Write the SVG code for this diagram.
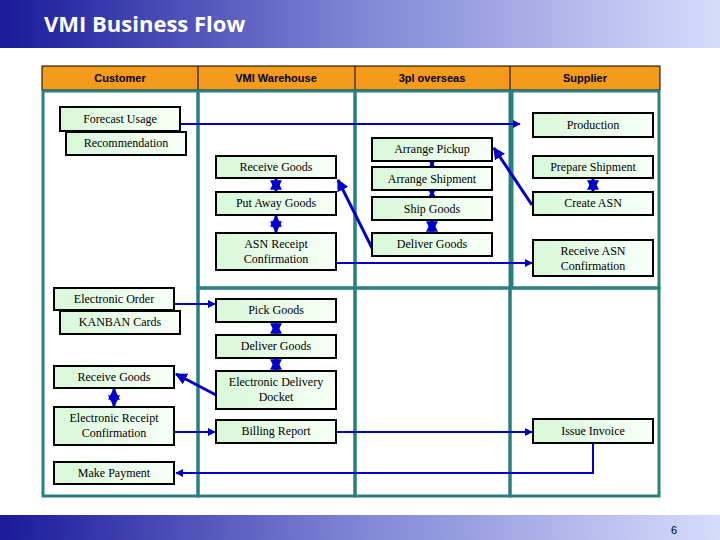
<svg xmlns="http://www.w3.org/2000/svg" width="720" height="540" viewBox="0 0 720 540">
<defs>
<linearGradient id="tb" x1="0" x2="1"><stop offset="0" stop-color="#1a1a9a"/><stop offset="0.5" stop-color="#7f86d6"/><stop offset="1" stop-color="#d6dcfa"/></linearGradient>
<linearGradient id="bx" x1="0" x2="1"><stop offset="0" stop-color="#d8f8d8"/><stop offset="1" stop-color="#f8fff8"/></linearGradient>
<marker id="ah" viewBox="0 0 10 10" refX="9" refY="5" markerWidth="4" markerHeight="4" orient="auto-start-reverse"><path d="M0,0L10,5L0,10z" fill="#0000cc"/></marker>
<style>
.b{fill:url(#bx);stroke:#000;stroke-width:2}
.t{font-family:"Liberation Serif",serif;font-size:12px;text-anchor:middle}
.h{font-family:"Liberation Sans",sans-serif;font-size:11px;font-weight:bold;text-anchor:middle}
.l{fill:none;stroke:#2a7f7f;stroke-width:3}
.a{fill:none;stroke:#0000cc;stroke-width:3;marker-end:url(#ah)}
.d{fill:none;stroke:#0000cc;stroke-width:3;marker-end:url(#ah);marker-start:url(#ah)}
</style>
</defs>
<rect width="720" height="540" fill="#fff"/>
<rect x="0" y="0" width="720" height="48" fill="url(#tb)"/>
<text x="44" y="32" font-family="Open Sans,sans-serif" font-size="22" font-weight="bold" fill="#fff">VMI Business Flow</text>
<rect x="0" y="515" width="720" height="25" fill="url(#tb)"/>
<text x="674" y="534" font-family="Liberation Sans,sans-serif" font-size="11" text-anchor="middle">6</text>
<g id="lanes">
<rect x="42" y="66" width="618" height="24" fill="#f49a1c" stroke="#000"/>
<line x1="198" y1="66" x2="198" y2="90" stroke="#000"/><line x1="355" y1="66" x2="355" y2="90" stroke="#000"/><line x1="510" y1="66" x2="510" y2="90" stroke="#000"/>
<text class="h" x="120" y="82">Customer</text><text class="h" x="276" y="82">VMI Warehouse</text><text class="h" x="432" y="82">3pl  overseas</text><text class="h" x="585" y="82">Supplier</text>
<rect class="l" x="43" y="91" width="155" height="405"/>
<rect class="l" x="198" y="91" width="157" height="197"/>
<rect class="l" x="198" y="288" width="157" height="208"/>
<rect class="l" x="355" y="91" width="155" height="197"/>
<rect class="l" x="355" y="288" width="155" height="208"/>
<rect class="l" x="512" y="91" width="147" height="197"/>
<rect class="l" x="510" y="288" width="149" height="208"/>
</g>
<g id="connectors">
<path class="a" d="M180,124H520" style="stroke-width:2"/>
<path class="a" d="M336,263H532" style="stroke-width:2"/>
<path class="a" d="M372,248L338,180"/>
<path class="a" d="M532,205L494,148"/>
<path class="a" d="M174,304H215" style="stroke-width:2"/>
<path class="a" d="M216,395L176,374"/>
<path class="a" d="M174,432H215" style="stroke-width:2"/>
<path class="a" d="M336,432H532" style="stroke-width:2"/>
<path class="a" d="M593,443V473H176" style="stroke-width:2"/>
<path class="d" d="M276,179V191"/><path class="d" d="M276,216V232"/>
<path class="d" d="M432,162V166"/><path class="d" d="M432,191V196"/><path class="d" d="M432,221V232"/>
<path class="d" d="M593,179V191"/>
<path class="d" d="M276,323V334"/><path class="d" d="M276,359V370"/>
<path class="d" d="M114,389V406"/>
</g>
<g id="n1"><rect class="b" x="66" y="132" width="120" height="23"/><text class="t" x="126" y="147">Recommendation</text></g>
<g id="n2"><rect class="b" x="60" y="107" width="120" height="24"/><text class="t" x="120" y="123">Forecast Usage</text></g>
<g id="n3"><rect class="b" x="216" y="156" width="120" height="22"/><text class="t" x="276" y="171">Receive Goods</text></g>
<g id="n4"><rect class="b" x="216" y="192" width="120" height="23"/><text class="t" x="276" y="207">Put Away Goods</text></g>
<g id="n5"><rect class="b" x="216" y="233" width="120" height="37"/><text class="t" x="276" y="248">ASN Receipt</text><text class="t" x="276" y="263">Confirmation</text></g>
<g id="n6"><rect class="b" x="372" y="138" width="120" height="23"/><text class="t" x="432" y="153">Arrange Pickup</text></g>
<g id="n7"><rect class="b" x="372" y="167" width="120" height="23"/><text class="t" x="432" y="183">Arrange Shipment</text></g>
<g id="n8"><rect class="b" x="372" y="197" width="120" height="23"/><text class="t" x="432" y="213">Ship Goods</text></g>
<g id="n9"><rect class="b" x="372" y="233" width="120" height="23"/><text class="t" x="432" y="248">Deliver Goods</text></g>
<g id="n10"><rect class="b" x="533" y="113" width="120" height="24"/><text class="t" x="593" y="129">Production</text></g>
<g id="n11"><rect class="b" x="533" y="156" width="120" height="22"/><text class="t" x="593" y="171">Prepare Shipment</text></g>
<g id="n12"><rect class="b" x="533" y="192" width="120" height="23"/><text class="t" x="593" y="207">Create ASN</text></g>
<g id="n13"><rect class="b" x="533" y="240" width="120" height="36"/><text class="t" x="593" y="255">Receive ASN</text><text class="t" x="593" y="270">Confirmation</text></g>
<g id="n14"><rect class="b" x="60" y="311" width="120" height="23"/><text class="t" x="120" y="326">KANBAN Cards</text></g>
<g id="n15"><rect class="b" x="54" y="288" width="120" height="22"/><text class="t" x="114" y="303">Electronic Order</text></g>
<g id="n16"><rect class="b" x="216" y="299" width="120" height="23"/><text class="t" x="276" y="314">Pick Goods</text></g>
<g id="n17"><rect class="b" x="216" y="335" width="120" height="23"/><text class="t" x="276" y="350">Deliver Goods</text></g>
<g id="n18"><rect class="b" x="216" y="371" width="120" height="38"/><text class="t" x="276" y="386">Electronic Delivery</text><text class="t" x="276" y="401">Docket</text></g>
<g id="n19"><rect class="b" x="54" y="366" width="120" height="22"/><text class="t" x="114" y="381">Receive Goods</text></g>
<g id="n20"><rect class="b" x="54" y="407" width="120" height="38"/><text class="t" x="114" y="422">Electronic Receipt</text><text class="t" x="114" y="437">Confirmation</text></g>
<g id="n21"><rect class="b" x="216" y="420" width="120" height="23"/><text class="t" x="276" y="435">Billing Report</text></g>
<g id="n22"><rect class="b" x="533" y="419" width="120" height="24"/><text class="t" x="593" y="435">Issue Invoice</text></g>
<g id="n23"><rect class="b" x="54" y="462" width="120" height="22"/><text class="t" x="114" y="477">Make Payment</text></g>
</svg>
